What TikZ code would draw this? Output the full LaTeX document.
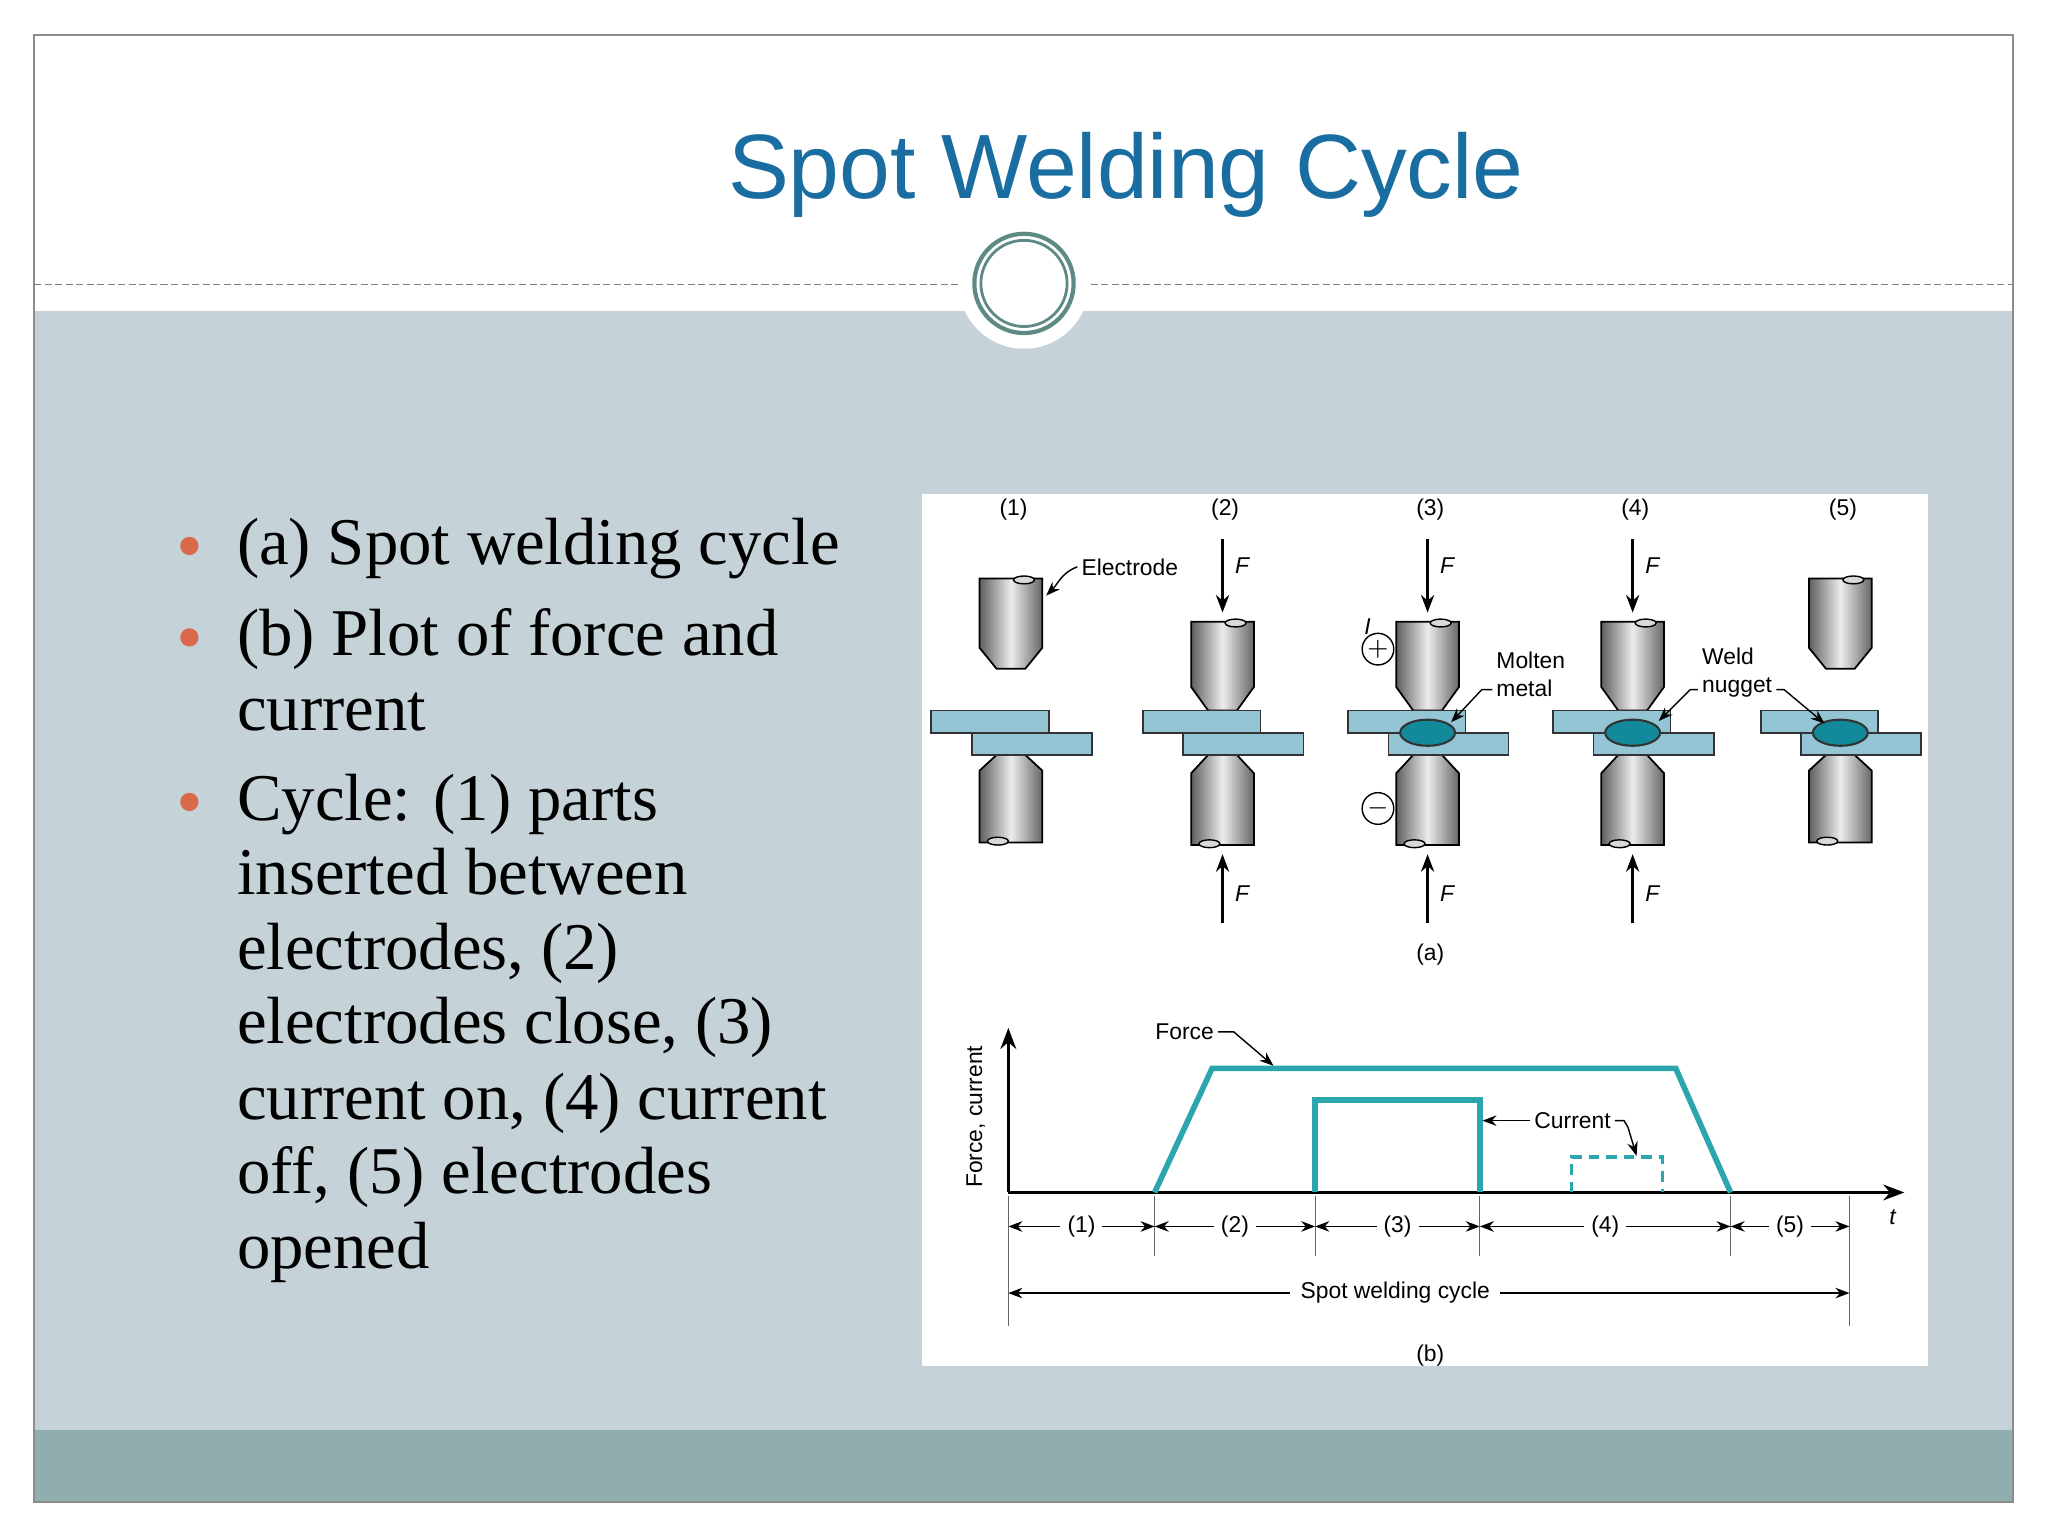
\documentclass[tikz,border=0pt]{standalone}
\usepackage{fontspec}
\setmainfont{Liberation Sans}
\newfontfamily\bodyserif{Liberation Serif}
\usetikzlibrary{arrows.meta,positioning,shapes.geometric}
\definecolor{slidebg}{HTML}{C5D3D9}
\definecolor{bandbg}{HTML}{8FAEAD}
\definecolor{titleblue}{HTML}{1A6DA0}
\definecolor{bulletred}{HTML}{D9694A}
\definecolor{plateblue}{HTML}{93C5D5}
\definecolor{nuggetteal}{HTML}{138A9C}
\definecolor{plotteal}{HTML}{2BA5AE}
\definecolor{ringteal}{HTML}{5E8A86}
\tikzset{
  lbl/.style={font=\fontsize{6.5}{7}\selectfont,inner sep=1pt},
  force/.style={font=\fontsize{6.5}{7}\selectfont\itshape,inner sep=1pt},
  bul/.style={font=\bodyserif\fontsize{19}{21}\selectfont,anchor=mid west,inner sep=0pt},
  elec/.style={draw=black,line width=0.5pt,left color=gray!75!black,right color=gray!80!black,middle color=gray!15},
  plate/.style={draw=black!80,line width=0.5pt,fill=plateblue},
  nugget/.style={draw=black!80,line width=0.6pt,fill=nuggetteal},
  farrow/.style={-{Stealth[length=5pt]},line width=0.7pt},
  lead/.style={-{Stealth[length=4pt]},line width=0.4pt},
  curve/.style={plotteal,line width=1.6pt},
  dim/.style={{Stealth[length=4pt]}-{Stealth[length=4pt]},line width=0.4pt},
  tick/.style={line width=0.3pt,black!60}
}
% upper electrode: centre x, top y, start of taper, tip y
\newcommand\upelec[4]{%
  \path[elec] ({#1-24},#2) -- ({#1-24},#3) -- ({#1-11},#4) -- ({#1+11},#4) -- ({#1+24},#3) -- ({#1+24},#2) -- cycle;
  \draw[line width=0.4pt,fill=gray!30] ({#1+10},{#2+1}) ellipse (8 and 3);}
% lower electrode: centre x, tip y, end of taper, bottom y
\newcommand\lowelec[4]{%
  \path[elec] ({#1-11},#2) -- ({#1-24},#3) -- ({#1-24},#4) -- ({#1+24},#4) -- ({#1+24},#3) -- ({#1+11},#2) -- cycle;
  \draw[line width=0.4pt,fill=gray!30] ({#1-10},{#4-1}) ellipse (8 and 3);}
\begin{document}
\begin{tikzpicture}[x=0.013061cm,y=-0.013061cm]
\useasboundingbox (0,0) rectangle (1568,1176);
% slide background
\fill[white] (0,0) rectangle (1568,1176);
\fill[slidebg] (26,238) rectangle (1541,1095);
\fill[bandbg] (26,1095) rectangle (1541,1150);
\draw[black!45,line width=0.5pt] (26,27) rectangle (1541,1150);
\draw[black!50,dashed,dash pattern=on 2pt off 1pt,line width=0.4pt] (26,218) -- (735,218);
\draw[black!50,dashed,dash pattern=on 2pt off 1pt,line width=0.4pt] (835,218) -- (1541,218);
\fill[white] (784,217) circle (50);
\draw[ringteal,line width=1.2pt] (784,217) circle (38);
\draw[ringteal,line width=0.8pt] (784,217) circle (33);
\node[titleblue,font=\fontsize{26}{30}\selectfont] (title) at (862,134) {Spot Welding Cycle};

% bullets
\foreach \yy in {418,488,614} \fill[bulletred] (145,\yy) circle (7);
\node[bul] (b1) at (181,425) {(a) Spot welding cycle};
\node[bul] (b2) at (181,495) {(b) Plot of force and};
\node[bul] (b3) at (181,552) {current};
\node[bul] (b4) at (181,621) {Cycle: (1) parts};
\node[bul] (b5) at (181,678) {inserted between};
\node[bul] (b6) at (181,735) {electrodes, (2)};
\node[bul] (b7) at (181,792) {electrodes close, (3)};
\node[bul] (b8) at (181,850) {current on, (4) current};
\node[bul] (b9) at (181,907) {off, (5) electrodes};
\node[bul] (b10) at (181,964) {opened};

% figure panel
\fill[white] (706,378) rectangle (1476,1046);

% (a) electrodes and sheets
\upelec{774}{443}{496}{512}
\lowelec{774}{578}{590}{645}
\upelec{1409}{443}{496}{512}
\lowelec{1409}{578}{590}{645}
\foreach \cx in {936,1093,1250}{
  \upelec{\cx}{476}{526}{544}
  \lowelec{\cx}{578}{592}{647}
}
\foreach \cx in {774,936,1093,1250,1409}{
  \path[plate] ({\cx-61},544) rectangle ({\cx+29},561);
  \path[plate] ({\cx-30},561) rectangle ({\cx+62},578);
}
\foreach \cx in {1093,1250,1409} \path[nugget] (\cx,561) ellipse (21 and 10);

\foreach \n/\cx in {1/774,2/936,3/1093,4/1250,5/1409}
  \node[lbl] (step\n) at ({\cx+2},390) {(\n)};
\foreach \n/\cx in {2/936,3/1093,4/1250}{
  \coordinate (ftop\n) at (\cx,413);
  \coordinate (ftip\n) at (\cx,469);
  \coordinate (fbot\n) at (\cx,707);
  \coordinate (fup\n) at (\cx,654);
  \draw[farrow] (ftop\n) -- (ftip\n);
  \draw[farrow] (fbot\n) -- (fup\n);
  \node[force] (fa\n) at ({\cx+15},433) {F};
  \node[force] (fb\n) at ({\cx+15},684) {F};
}
\node[lbl] (electrode) at (865,434) {Electrode};
\coordinate (electip) at (801,456);
\draw[lead] (electrode.west) to[out=200,in=45] (electip);
\node[force] (cur) at (1047,480) {I};
\node[draw,circle,inner sep=0pt,minimum size=9pt,font=\fontsize{7}{7}\selectfont] (plus) at (1055,497) {$+$};
\node[draw,circle,inner sep=0pt,minimum size=9pt,font=\fontsize{7}{7}\selectfont] (minus) at (1055,619) {$-$};
\node[lbl,align=left] (molten) at (1172,516) {Molten\\[1pt]metal};
\coordinate (moltentip) at (1111,553);
\draw[lead] (molten.west |- 0,528) -- ++(-8,0) -- (moltentip);
\node[lbl,align=left] (weld) at (1330,515) {Weld\\[1pt]nugget};
\coordinate (weldtip) at (1270,552);
\coordinate (weldtipb) at (1397,554);
\draw[lead] (weld.west |- 0,528) -- ++(-6,0) -- (weldtip);
\draw[lead] (weld.east |- 0,528) -- ++(6,0) -- (weldtipb);
\node[lbl] (capa) at (1095,731) {(a)};

% (b) force and current plot
\coordinate (origin) at (772,913);
\coordinate (ytop) at (772,787);
\coordinate (tend) at (1458,913);
\draw[-{Stealth[length=6pt]},line width=0.7pt] (origin) -- (ytop);
\draw[-{Stealth[length=6pt]},line width=0.7pt] (origin) -- (tend);
\node[force] (tlabel) at (1449,932) {t};
\node[lbl,rotate=90] (ylabel) at (747,855) {Force, current};
\draw[curve] (884,913) -- (928,818) -- (1283,818) -- (1325,913);
\draw[curve] (1007,913) -- (1007,842) -- (1133,842) -- (1133,913);
\draw[plotteal,line width=1pt,dashed,dash pattern=on 3pt off 2pt] (1203,913) -- (1203,886) -- (1273,886) -- (1273,913);
\node[lbl] (forcelbl) at (907,790) {Force};
\coordinate (forcetip) at (975,816);
\draw[lead] (forcelbl.east) -- ++(12,0) -- (forcetip);
\node[lbl] (currlbl) at (1204,858) {Current};
\coordinate (currtip) at (1135,858);
\coordinate (dashtip) at (1253,885);
\draw[lead] (currlbl.west) -- (currtip);
\draw[lead] (currlbl.east) -- ++(7,0) -- ++(3,5) -- (dashtip);
% time divisions
\foreach \n/\xa/\xb in {1/772/884,2/884/1007,3/1007/1133,4/1133/1325,5/1325/1416}{
  \coordinate (s\n) at (\xa,939);
  \coordinate (e\n) at (\xb,939);
  \draw[dim] (s\n) -- (e\n) node[lbl,midway,fill=white,inner xsep=2pt] (seg\n) {(\n)};
}
\foreach \tx in {884,1007,1133,1325} \draw[tick] (\tx,916) -- (\tx,962);
\draw[tick] (772,916) -- (772,1015);
\draw[tick] (1416,916) -- (1416,1015);
\coordinate (cyca) at (772,990);
\coordinate (cycb) at (1416,990);
\draw[dim] (cyca) -- (cycb) node[lbl,pos=0.46,fill=white,inner xsep=3pt] (cycle) {Spot welding cycle};
\node[lbl] (capb) at (1095,1038) {(b)};
\end{tikzpicture}
\end{document}
